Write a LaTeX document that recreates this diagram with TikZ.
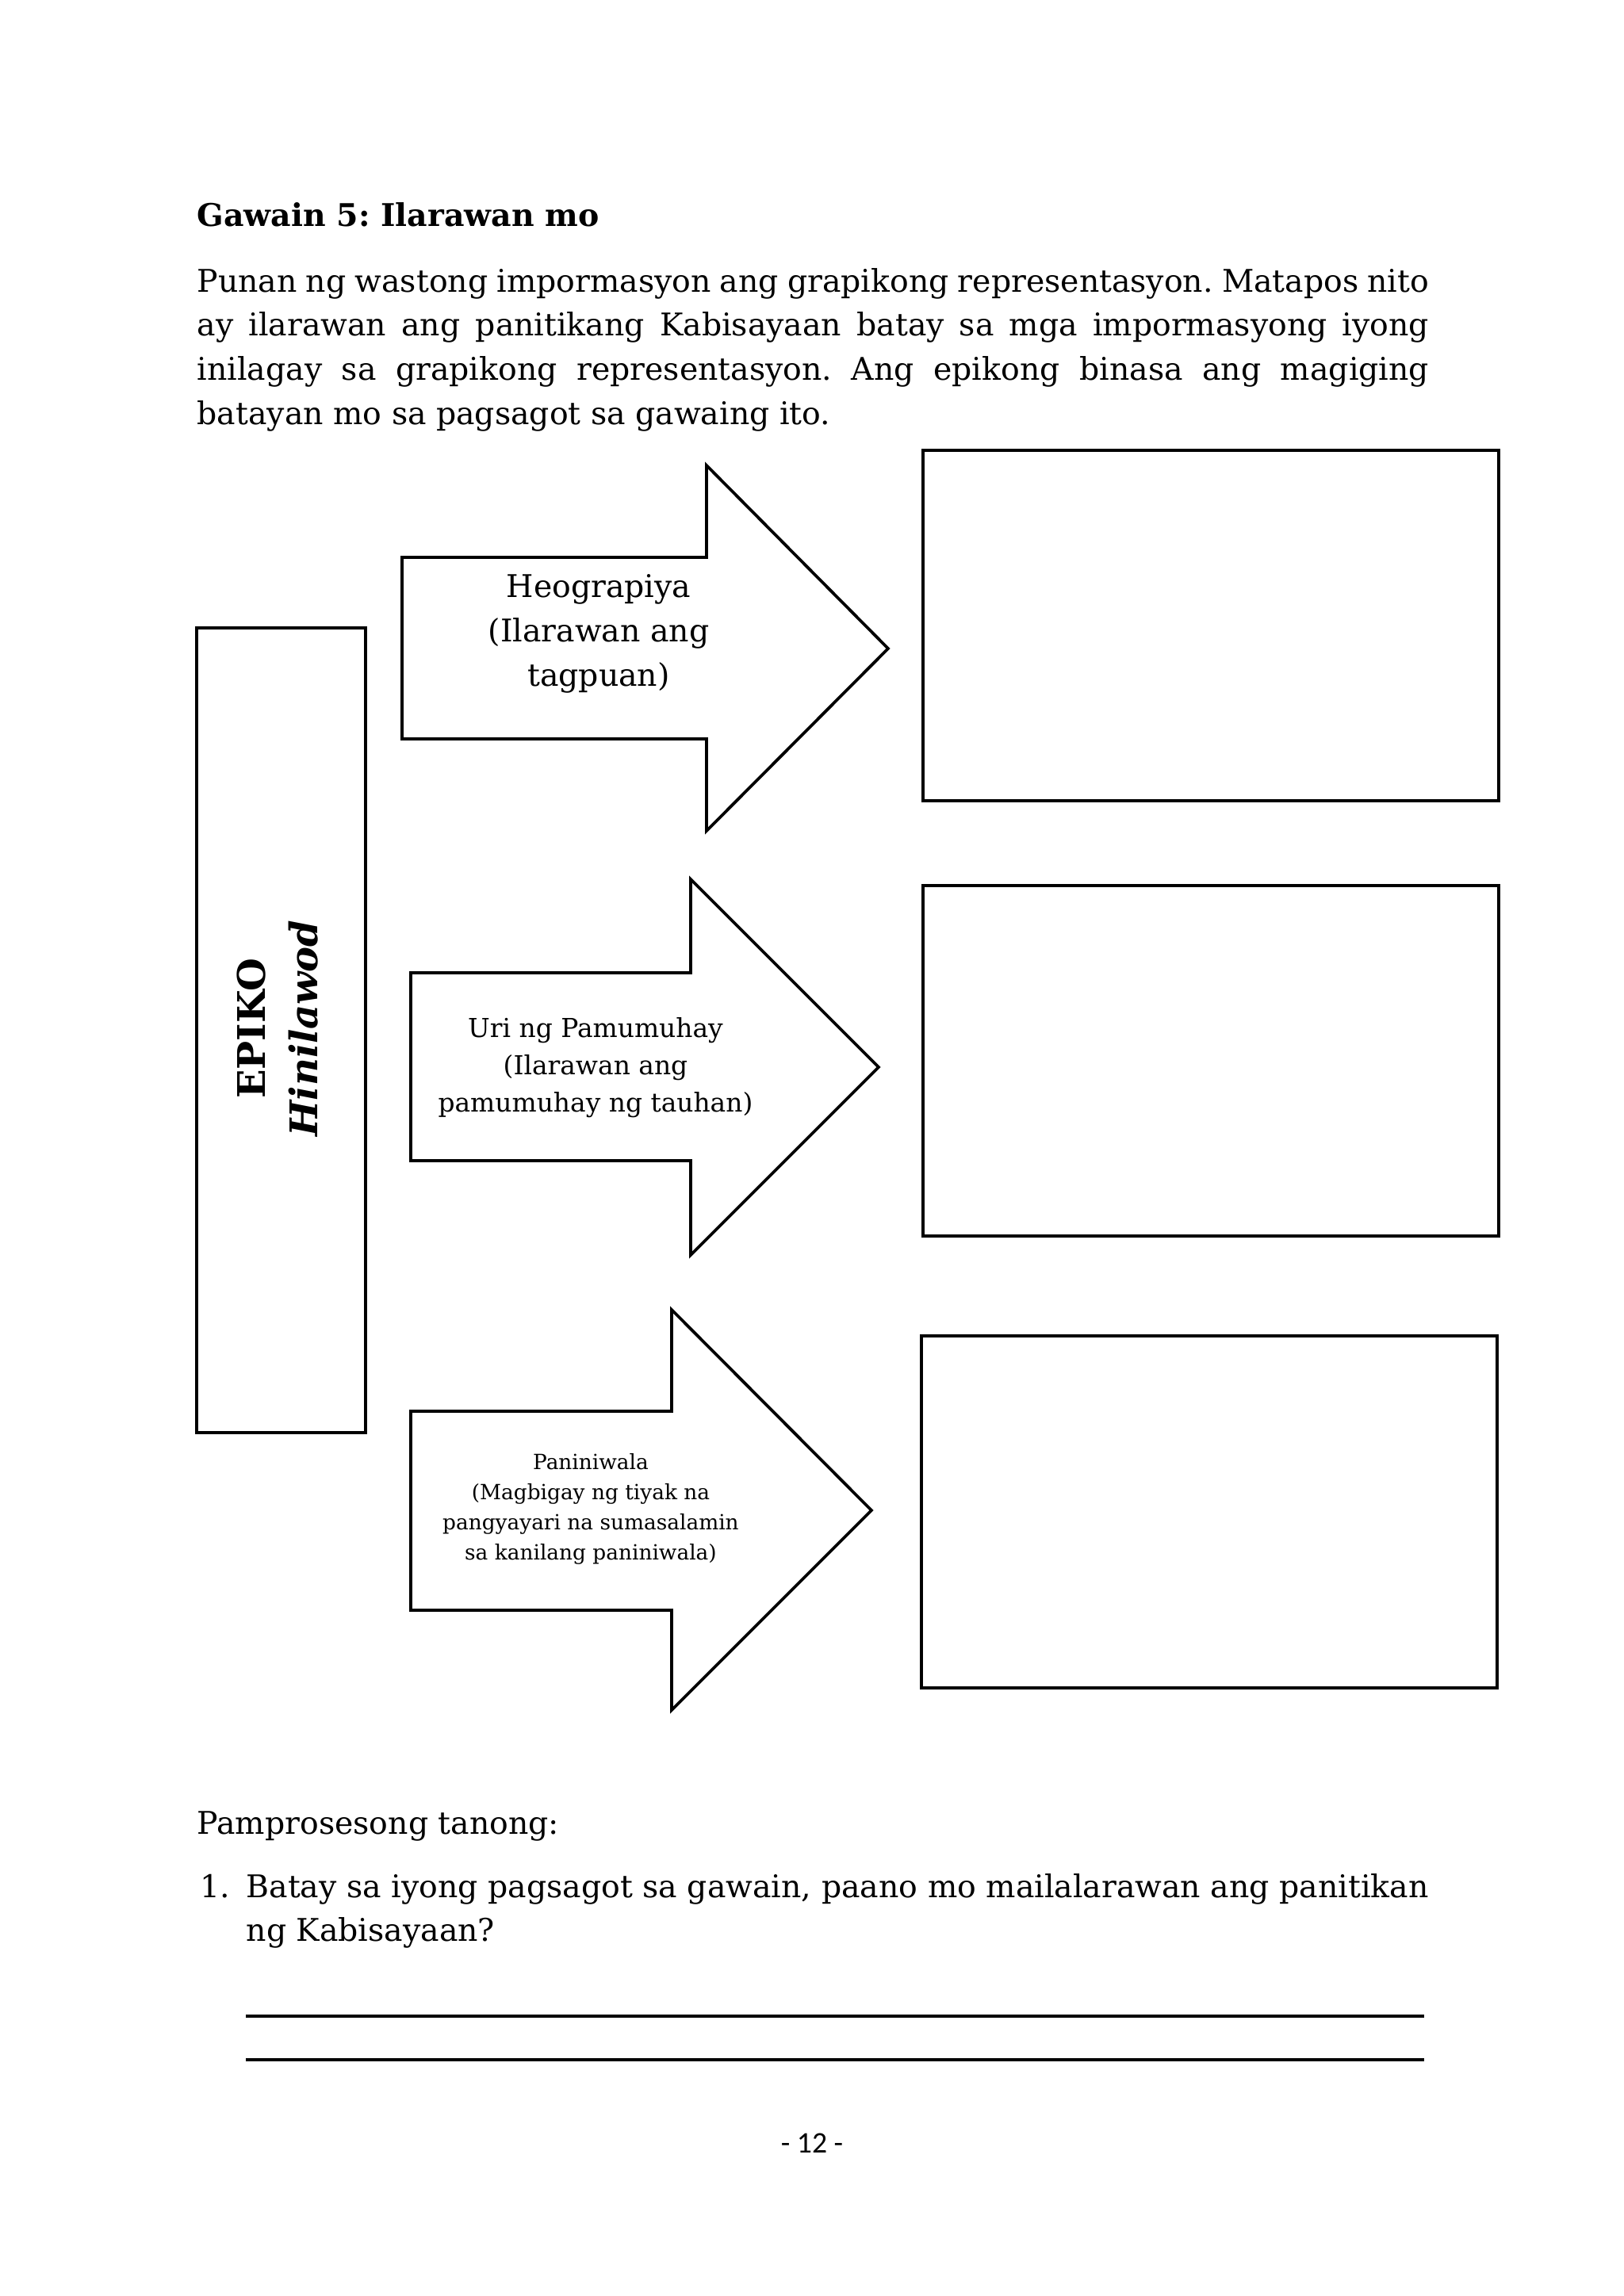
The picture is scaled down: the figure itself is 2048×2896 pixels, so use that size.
\documentclass[tikz,border=0pt]{standalone}
\usepackage{fontspec}
\setmainfont{DejaVu Serif}
\newfontfamily\pagefont{Carlito}
\usetikzlibrary{positioning}
\frenchspacing
\tikzstyle{frame}=[draw,line width=1.1pt,line join=miter]
\tikzstyle{body}=[inner sep=0pt,anchor=base west,align=justify,font=\fontsize{11.5}{16.3}\selectfont]
\tikzstyle{caption}=[inner sep=0pt,anchor=base,align=center]

\begin{document}
\begin{tikzpicture}[x=0.010254cm,y=-0.010254cm]
    \useasboundingbox (0,0) rectangle (2048,2896);
    % heading and instructions
    \node[body] (title) at (248,285) {\bfseries Gawain 5: Ilarawan mo};
    \node[body,text width=15.93cm] (intro) at (248,368) {Punan ng wastong impormasyon ang grapikong representasyon. Matapos nito\linebreak
    ay ilarawan ang panitikang Kabisayaan batay sa mga impormasyong iyong\linebreak
    inilagay sa grapikong representasyon. Ang epikong binasa ang magiging\linebreak
    batayan mo sa pagsagot sa gawaing ito.};
    % the epic
    \draw[frame] (248,792) rectangle (461,1807);
    \node[caption,anchor=center,rotate=90,font=\fontsize{14}{19.5}\selectfont] (epiko) at (350,1297)
        {{\bfseries EPIKO}\\{\bfseries\itshape Hinilawod}};
    % block arrows
    \foreach \x/\st/\sb/\hx/\ht/\hb/\tx/\ty in {507/703/932/891/587/1048/1120/818,
    518/1227/1464/871/1109/1583/1108/1346, 518/1780/2031/847/1652/2157/1099/1905}
        \draw[frame] (\x,\st) -- (\hx,\st) -- (\hx,\ht) -- (\tx,\ty) -- (\hx,\hb)
            -- (\hx,\sb) -- (\x,\sb) -- cycle;
    % captions sit on the baseline of their last line
    \node[caption,font=\fontsize{11.5}{16.3}\selectfont] (heo) at (755,865)
        {Heograpiya\\(Ilarawan ang\\tagpuan)};
    \node[caption,font=\fontsize{9.6}{13.6}\selectfont] (uri) at (751,1402)
        {Uri ng Pamumuhay\\(Ilarawan ang\\pamumuhay ng tauhan)};
    \node[caption,font=\fontsize{7.7}{11}\selectfont] (pan) at (745,1967)
        {Paniniwala\\(Magbigay ng tiyak na\\pangyayari na sumasalamin\\sa kanilang paniniwala)};
    % answer boxes
    \foreach \xa/\ya/\xb/\yb in {1164/568/1890/1010, 1164/1117/1890/1559, 1162/1685/1888/2129}
        \draw[frame] (\xa,\ya) rectangle (\xb,\yb);
    % processing question
    \node[body] (tanong) at (248,2313) {Pamprosesong tanong:};
    \node[body] (num) at (252,2393) {1.};
    \node[body,text width=15.29cm] (q1) at (310,2393) {Batay sa iyong pagsagot sa gawain, paano mo mailalarawan ang panitikan\linebreak
    ng Kabisayaan?};
    \coordinate (ans1w) at (310,2543);
    \coordinate (ans1e) at (1796,2543);
    \coordinate (ans2w) at (310,2598);
    \coordinate (ans2e) at (1796,2598);
    \draw[frame] (ans1w) -- (ans1e);
    \draw[frame] (ans2w) -- (ans2e);
    \node[caption,font=\pagefont\fontsize{11}{13}\selectfont] (pageno) at (1024,2715) {- 12 -};
\end{tikzpicture}
\end{document}
